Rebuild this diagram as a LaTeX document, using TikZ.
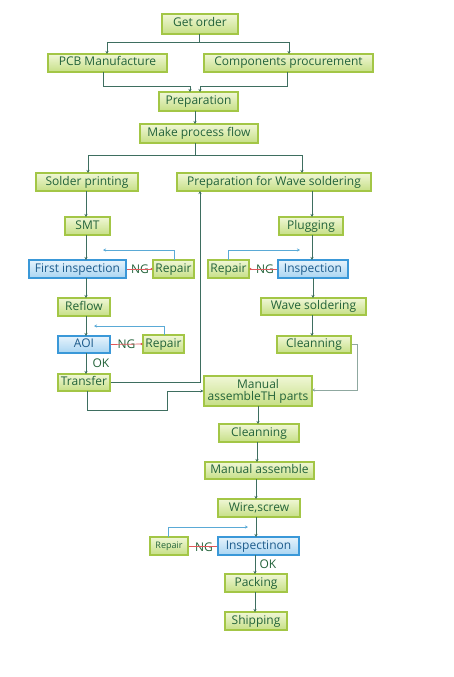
\documentclass[tikz,border=0pt]{standalone}
\usepackage{fontspec}
\setmainfont{Open Sans}
\usetikzlibrary{arrows.meta}
\definecolor{gborder}{HTML}{A3C646}
\definecolor{gtop}{HTML}{F0F7D6}
\definecolor{gbot}{HTML}{C6DF86}
\definecolor{gtext}{HTML}{23633A}
\definecolor{bborder}{HTML}{3A98D8}
\definecolor{btop}{HTML}{E6F3FC}
\definecolor{bbot}{HTML}{A9D5F2}
\definecolor{btext}{HTML}{1E5C8C}
\definecolor{conn}{HTML}{3E6E60}
\definecolor{loopc}{HTML}{5AAAD6}
\definecolor{ngc}{HTML}{E0585A}
\definecolor{grayc}{HTML}{8FA8A0}
\tikzset{
  gbox/.style={draw=gborder, line width=1.1pt, top color=gtop, bottom color=gbot,
    text=gtext, font=\fontsize{12}{13}\selectfont, inner sep=0pt, anchor=center},
  bbox/.style={draw=bborder, line width=1.1pt, top color=btop, bottom color=bbot,
    text=btext, font=\fontsize{12}{13}\selectfont, inner sep=0pt, anchor=center},
  oneline/.style={text height=8.6pt, text depth=2.6pt},
  conn/.style={draw=conn, line width=0.7pt, -{Stealth[length=3pt,width=3pt]}},
  loopl/.style={draw=loopc, line width=0.7pt, -{Stealth[length=3pt,width=3pt]}},
  grayl/.style={draw=grayc, line width=0.7pt, -{Stealth[length=3pt,width=3pt]}},
  ngl/.style={draw=ngc, line width=0.7pt, -{Circle[length=2pt]}},
  nglab/.style={text=gtext, font=\fontsize{12}{13}\selectfont, inner sep=0pt},
  oklab/.style={text=gtext, font=\fontsize{12}{13}\selectfont, inner sep=0pt},
}
\newcommand{\bx}[6]{\node[#1, oneline, minimum width=#4pt, minimum height=#5pt] (#2) at (#3) {#6};}
\begin{document}
\begin{tikzpicture}[x=1pt,y=-1pt]
\useasboundingbox (0,0) rectangle (454,677);
\bx{gbox}{go}{200,24}{76}{20}{Get order}
\bx{gbox}{pcb}{107.5,63}{119}{18}{PCB Manufacture}
\bx{gbox}{cp}{288.5,63}{169}{18}{Components procurement}
\bx{gbox}{prep}{198.5,101.5}{79}{19}{Preparation}
\bx{gbox}{mpf}{199,133.5}{118}{19}{Make process flow}
\bx{gbox}{sp}{87,182}{102}{18}{Solder printing}
\bx{gbox}{pws}{274,182}{194}{18}{Preparation for Wave soldering}
\bx{gbox}{smt}{87.5,226}{45}{18}{SMT}
\bx{bbox}{fi}{77.5,269}{97}{18}{First inspection}
\bx{gbox}{rep1}{173.5,269}{41}{18}{Repair}
\bx{gbox}{refl}{84,307}{52}{18}{Reflow}
\bx{bbox}{aoi}{84,344.5}{52}{17}{AOI}
\bx{gbox}{rep2}{163.5,344}{41}{18}{Repair}
\bx{gbox}{tr}{84,382.5}{52}{17}{Transfer}
\bx{gbox}{plug}{311,226}{64}{18}{Plugging}
\bx{bbox}{insp}{313,269}{70}{18}{Inspection}
\bx{gbox}{rep3}{228.5,269}{41}{18}{Repair}
\bx{gbox}{ws}{313.5,306.5}{105}{17}{Wave soldering}
\bx{gbox}{cl1}{314,344.5}{74}{17}{Cleanning}
\node[gbox, minimum width=108pt, minimum height=30pt, align=center, font=\fontsize{12}{12}\selectfont] (mat) at (258,391) {Manual\\assembleTH parts};
\bx{gbox}{cl2}{259,433}{80}{18}{Cleanning}
\bx{gbox}{ma}{259.5,470.5}{109}{17}{Manual assemble}
\bx{gbox}{wire}{259,508}{82}{18}{Wire,screw}
\bx{bbox}{ins2}{258.5,546}{81}{18}{Inspectinon}
\node[gbox, text height=6.5pt, text depth=2pt, minimum width=38pt, minimum height=18pt, font=\fontsize{9}{10}\selectfont] (rep4) at (169,546) {Repair};
\bx{gbox}{pack}{256,583}{62}{18}{Packing}
\bx{gbox}{ship}{256,621}{62}{18}{Shipping}
% top fan-out
\draw[conn] (199,34) -- (199,42) -| (107,54);
\draw[conn] (199,42) -| (289,54);
\draw[conn] (103,72) |- (190,86) -- (190,92);
\draw[conn] (287,72) |- (200,86) -- (200,92);
\draw[conn] (195,111) -- (195,124);
\draw[conn] (195,143) -- (195,155) -| (88,173);
\draw[conn] (195,155) -| (302,173);
% left column
\draw[conn] (86,191) -- (86,217);
\draw[conn] (86,235) -- (86,260);
\draw[conn] (86,278) -- (86,298);
\draw[conn] (86,316) -- (86,336);
\draw[conn] (86,353) -- (86,374);
\node[oklab] (ok1) at (101,363) {OK};
\node[nglab] (ng1) at (140,269) {NG};
\draw[ngl] (fi.east) -- (rep1.west);
\node[nglab] (ng2) at (126.5,344.5) {NG};
\draw[ngl] (aoi.east) -- (rep2.west);
\coordinate (l1) at (103,250);
\draw[loopl] (174,260) |- (l1);
\coordinate (l2) at (94,326);
\draw[loopl] (164,335) |- (l2);
% transfer connections
\draw[conn] (tr.east) -| (200,191);
\draw[conn] (87,391) |- (167,410) |- (mat.west);
% right column
\draw[conn] (312,191) -- (312,217);
\draw[conn] (312,235) -- (312,260);
\draw[conn] (313,278) -- (313,298);
\draw[conn] (312,315) -- (312,336);
\node[nglab] (ng3) at (265,269.5) {NG};
\draw[ngl] (insp.west) -- (rep3.east);
\coordinate (l3) at (300,250);
\draw[loopl] (228,260) |- (l3);
\draw[grayl] (cl1.east) -- (357,344.5) |- (312,390);
% bottom column
\draw[conn] (258,406) -- (258,424);
\draw[conn] (257,442) -- (257,462);
\draw[conn] (256,479) -- (256,499);
\draw[conn] (256,517) -- (256,537);
\draw[conn] (255,555) -- (255,574);
\node[oklab] (ok2) at (268,564) {OK};
\draw[conn] (255,592) -- (255,612);
\node[nglab] (ng4) at (204,547) {NG};
\draw[draw=ngc, line width=0.7pt] (ins2.west) -- (rep4.east);
\coordinate (l4) at (248,527);
\draw[loopl] (168,537) |- (l4);
\end{tikzpicture}
\end{document}
